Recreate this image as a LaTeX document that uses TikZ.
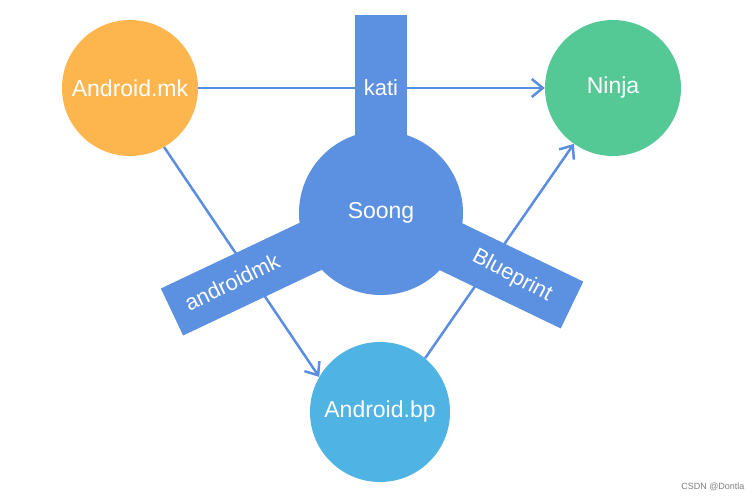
\documentclass[tikz,border=0pt]{standalone}
\usepackage{fontspec}
\setmainfont{Liberation Sans}
\usetikzlibrary{arrows.meta}
\definecolor{mkc}{HTML}{FDB64E}
\definecolor{ninjac}{HTML}{55C995}
\definecolor{soongc}{HTML}{5C90E0}
\definecolor{bpc}{HTML}{4FB4E3}
\definecolor{arrc}{HTML}{5B8EE0}
\tikzset{
  circ/.style={circle,inner sep=0pt,text=white,font=\fontsize{23}{26}\selectfont},
  arr/.style={draw=arrc,line width=2.5pt,-{Straight Barb[length=11pt,width=18pt,line width=2.5pt]}},
  bar/.style={draw=soongc,line width=52pt},
  lbl/.style={text=white,font=\fontsize{22}{25}\selectfont}
}
\begin{document}
\begin{tikzpicture}[x=1pt,y=-1pt]
\useasboundingbox (0,0) rectangle (755,500);
\fill[white] (0,0) rectangle (755,500);
\node[circ,fill=mkc,minimum size=136pt] (mk) at (130,88) {Android.mk};
\node[circ,fill=ninjac,minimum size=136pt] (ninja) at (613,88) {Ninja};
\node[circ,fill=bpc,minimum size=140pt] (bp) at (380,412) {Android.bp};
\coordinate (sc) at (381,213);
\coordinate (katiend) at (381,15);
\coordinate (amkend) at (172,312);
\coordinate (bpend) at (572,305);
\draw[arr] (mk.east) -- (ninja.west);
\draw[arr] (mk.-60) -- (bp.150);
\draw[arr] (bp.50) -- (ninja.-125);
\draw[bar] (sc) -- (katiend);
\draw[bar] (sc) -- (amkend);
\draw[bar] (sc) -- (bpend);
\node[circ,fill=soongc,minimum size=164pt] (soong) at (sc) {Soong};
\node[lbl] (kati) at (381,88) {kati};
\node[lbl,rotate=26] (amk) at (232,282) {androidmk};
\node[lbl,rotate=-28] (blue) at (512,276) {Blueprint};
\node[text=gray,font=\fontsize{9}{10}\selectfont,anchor=east] (wm) at (748,487) {CSDN @Dontla};
\end{tikzpicture}
\end{document}
